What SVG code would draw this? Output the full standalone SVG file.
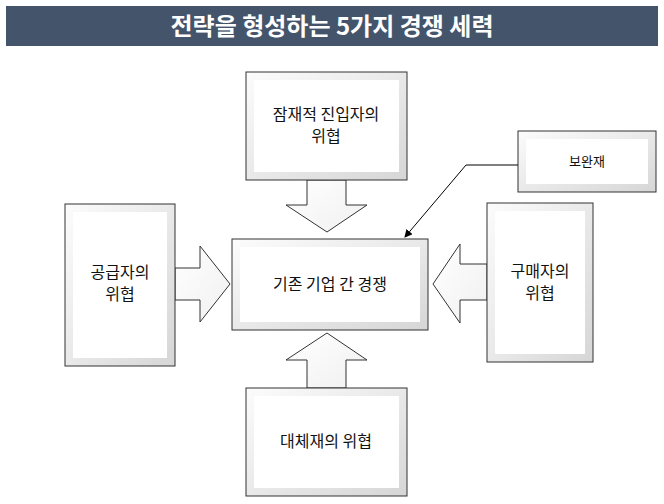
<svg xmlns="http://www.w3.org/2000/svg" width="664" height="504" viewBox="0 0 664 504">
<style>
.t{font-family:"Noto Sans CJK KR","Noto Sans",sans-serif;font-size:16px;fill:#111;text-anchor:middle}
.bo{fill:url(#bev);stroke:#333;stroke-width:1}
.bi{fill:#fff;stroke:none}
.ar{fill:url(#ag);stroke:#333;stroke-width:1}
</style>
<defs>
<linearGradient id="bev" x1="0" y1="0" x2="1" y2="1"><stop offset="0" stop-color="#fcfcfc"/><stop offset="1" stop-color="#d6d6d6"/></linearGradient>
<linearGradient id="ag" x1="0" y1="0" x2="1" y2="1"><stop offset="0" stop-color="#ffffff"/><stop offset="1" stop-color="#f0f0f0"/></linearGradient>
<marker id="m" markerWidth="8" markerHeight="8" refX="7" refY="4" orient="auto" markerUnits="userSpaceOnUse"><path d="M0,0 L8,4 L0,8 z" fill="#000"/></marker>
</defs>
<rect x="6" y="6" width="652" height="40" fill="#44546a"/>
<text x="332" y="35" style="font-family:'Noto Sans CJK KR',sans-serif;font-size:24px;font-weight:bold;fill:#fff;text-anchor:middle">전략을 형성하는 5가지 경쟁 세력</text>
<g id="arrows">
<polygon class="ar" points="307,180 346,180 346,205 367,205 327,232 286,205 307,205"/>
<polygon class="ar" points="307,388 346,388 346,360 367,360 327,333 286,360 307,360"/>
<polygon class="ar" points="175,268 200,268 200,246 230,284 200,322 200,300 175,300"/>
<polygon class="ar" points="487,264 460,264 460,244 433,284 460,323 460,300 487,300"/>
</g>
<g id="top"><rect class="bo" x="246" y="72" width="161" height="108"/><rect class="bi" x="254" y="80" width="145" height="92"/><text class="t" x="326" y="120">잠재적 진입자의</text><text class="t" x="326" y="142">위협</text></g>
<g id="center"><rect class="bo" x="232" y="239" width="196" height="91"/><rect class="bi" x="240" y="247" width="180" height="75"/><text class="t" x="330" y="290">기존 기업 간 경쟁</text></g>
<g id="left"><rect class="bo" x="65" y="204" width="110" height="162"/><rect class="bi" x="73" y="212" width="94" height="146"/><text class="t" x="120" y="278">공급자의</text><text class="t" x="120" y="300">위협</text></g>
<g id="right"><rect class="bo" x="487" y="203" width="106" height="159"/><rect class="bi" x="495" y="211" width="90" height="143"/><text class="t" x="540" y="277">구매자의</text><text class="t" x="540" y="299">위협</text></g>
<g id="bottom"><rect class="bo" x="246" y="388" width="161" height="108"/><rect class="bi" x="254" y="396" width="145" height="92"/><text class="t" x="326" y="447">대체재의 위협</text></g>
<g id="comp"><rect class="bo" x="518" y="131" width="138" height="61"/><rect class="bi" x="526" y="139" width="122" height="45"/><text class="t" x="587" y="166" style="font-size:13px">보완재</text></g>
<g id="connectors"><polyline points="518,165 466,165 405,237" fill="none" stroke="#000" stroke-width="1" marker-end="url(#m)"/></g>
</svg>
